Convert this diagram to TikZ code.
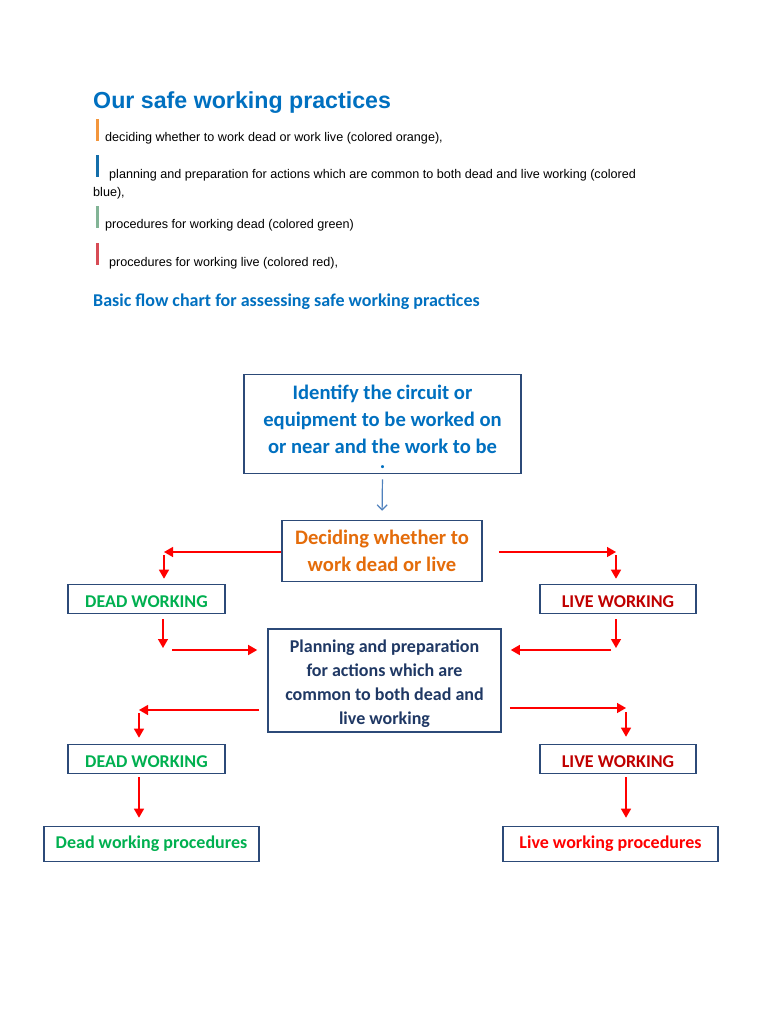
\documentclass[tikz,border=0pt]{standalone}
\usepackage{fontspec}
\setmainfont{Liberation Sans}
\newfontfamily\chartfont{Carlito}
\usetikzlibrary{arrows.meta}

\definecolor{headblue}{RGB}{0,112,192}
\definecolor{boxline}{RGB}{44,74,120}
\definecolor{deadgreen}{RGB}{0,176,80}
\definecolor{livered}{RGB}{192,0,0}
\definecolor{decideorange}{RGB}{228,108,10}
\definecolor{plannavy}{RGB}{31,56,100}
\definecolor{barorange}{RGB}{243,150,60}
\definecolor{barblue}{RGB}{20,110,170}
\definecolor{bargreen}{RGB}{130,180,150}
\definecolor{barred}{RGB}{215,75,85}
\definecolor{arrowblue}{RGB}{79,129,189}

\tikzset{
  chartbox/.style={draw=boxline, line width=1.6pt, fill=white, inner sep=0pt,
    align=center, font=\chartfont\bfseries},
  capsbox/.style={chartbox, font=\chartfont\bfseries\fontsize{18}{21}\selectfont,
    text height=16.5pt, text depth=0pt},
  redarrow/.style={red, line width=1.4pt, -{Triangle[length=9pt,width=10pt]}},
  bluearrow/.style={arrowblue, line width=1.2pt, -{Straight Barb[length=5pt,width=10pt]}},
  listtext/.style={anchor=base west, inner sep=0pt, font=\fontsize{12.6}{15}\selectfont}
}

\begin{document}
\begin{tikzpicture}[x=1pt,y=-1pt]
    \useasboundingbox[fill=white] (0,0) rectangle (768,1024);

    %% heading and list
    \node[anchor=base west, inner sep=0pt, text=headblue,
      font=\bfseries\fontsize{23.2}{26}\selectfont] (title) at (93,109) {Our safe working practices};
    \foreach \c/\y in {barorange/119, barblue/155, bargreen/206, barred/243}
        \fill[\c] (95.5,\y) rectangle (98.5,\y+22);
    \node[listtext] (item1) at (105,142) {deciding whether to work dead or work live (colored orange),};
    \node[listtext] (item2) at (109,179) {planning and preparation for actions which are common to both dead and live working (colored};
    \node[listtext] (item2b) at (93,197) {blue),};
    \node[listtext] (item3) at (105,229) {procedures for working dead (colored green)};
    \node[listtext] (item4) at (109,266) {procedures for working live (colored red),};
    \node[anchor=base west, inner sep=0pt, text=headblue,
      font=\chartfont\bfseries\fontsize{18}{21}\selectfont] (subtitle) at (93,306)
      {Basic flow chart for assessing safe working practices};

    %% boxes
    \node[chartbox, minimum width=277, minimum height=99, text=headblue,
      font=\chartfont\bfseries\fontsize{20.6}{27}\selectfont] (identify) at (382.5,424)
      {\rule{0pt}{19.5pt}Identify the circuit or\\equipment to be worked on\\or near and the work to be\\[-12pt].};
    \node[chartbox, minimum width=200, minimum height=61, text=decideorange,
      font=\chartfont\bfseries\fontsize{20.6}{27}\selectfont] (decide) at (382,551) {Deciding whether to\\work dead or live};
    \node[capsbox, minimum width=157, minimum height=29, text=deadgreen] (dead1) at (146.5,599) {DEAD WORKING};
    \node[capsbox, minimum width=156, minimum height=29, text=livered] (live1) at (618,599) {LIVE WORKING};
    \node[chartbox, minimum width=233, minimum height=103, text=plannavy,
      font=\chartfont\bfseries\fontsize{18}{24}\selectfont] (plan) at (384.5,680.5)
      {\rule{0pt}{18.5pt}Planning and preparation\\for actions which are\\common to both dead and\\live working};
    \node[capsbox, minimum width=157, minimum height=29, text=deadgreen] (dead2) at (146.5,759) {DEAD WORKING};
    \node[capsbox, minimum width=156, minimum height=29, text=livered] (live2) at (618,759) {LIVE WORKING};
    \node[chartbox, minimum width=215, minimum height=35, text=deadgreen,
      font=\chartfont\bfseries\fontsize{18}{21}\selectfont] (deadproc) at (151.5,844) {Dead working procedures};
    \node[chartbox, minimum width=215, minimum height=35, text=red,
      font=\chartfont\bfseries\fontsize{18}{21}\selectfont] (liveproc) at (610.5,844) {Live working procedures};

    %% turning points of the arrows
    \coordinate (dl) at (164,552);
    \coordinate (dr) at (616,552);
    \coordinate (pl) at (163,648);
    \coordinate (plh) at (172,650);
    \coordinate (pr) at (616,648);
    \coordinate (prh) at (611,650);
    \coordinate (ql) at (139,710);
    \coordinate (qr) at (626,708);

    %% arrows
    \draw[bluearrow, shorten <=5pt, shorten >=9pt] (identify.south) -- (decide.north);
    \draw[redarrow] (decide.west |- dl) -- (dl);
    \draw[redarrow, shorten <=16pt] (decide.east |- dr) -- (dr);
    \draw[redarrow, shorten <=3pt, shorten >=5pt] (dl) -- (dl |- dead1.north);
    \draw[redarrow, shorten <=3pt, shorten >=5pt] (dr) -- (dr |- live1.north);
    \draw[redarrow, shorten <=5pt] (dead1.south -| pl) -- (pl);
    \draw[redarrow, shorten <=5pt] (live1.south -| pr) -- (pr);
    \draw[redarrow, shorten >=10pt] (plh) -- (plan.west |- plh);
    \draw[redarrow, shorten >=9pt] (prh) -- (plan.east |- prh);
    \draw[redarrow, shorten <=8pt] (plan.west |- ql) -- (ql);
    \draw[redarrow, shorten <=8pt] (plan.east |- qr) -- (qr);
    \draw[redarrow, shorten <=3pt, shorten >=6pt] (ql) -- (ql |- dead2.north);
    \draw[redarrow, shorten <=4pt, shorten >=7pt] (qr) -- (qr |- live2.north);
    \draw[redarrow, shorten <=3pt, shorten >=8pt] (dead2.south -| ql) -- (deadproc.north -| ql);
    \draw[redarrow, shorten <=3pt, shorten >=8pt] (live2.south -| qr) -- (liveproc.north -| qr);
\end{tikzpicture}
\end{document}
